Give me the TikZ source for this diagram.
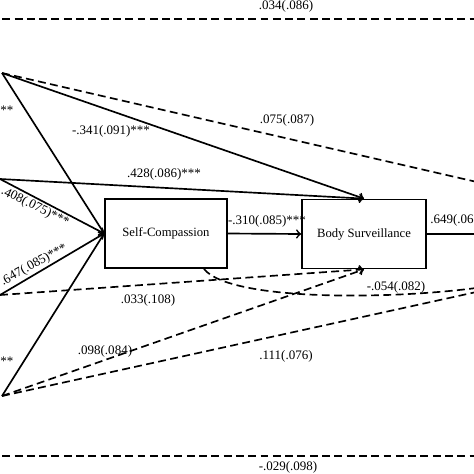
\documentclass[tikz,border=0pt]{standalone}
\usepackage{fontspec}
\setmainfont{Liberation Serif}
\usetikzlibrary{arrows}

\begin{document}
\begin{tikzpicture}[x=0.02cm,y=-0.02cm,>=to,
    var/.style={draw,line width=1pt,minimum width=2.44cm,minimum height=1.38cm,
      font=\fontsize{7.2}{8}\selectfont},
    sig/.style={line width=0.95pt},
    nonsig/.style={line width=0.95pt,dash pattern=on 4.5pt off 2.5pt},
    coef/.style={font=\fontsize{7.4}{8}\selectfont,inner sep=0pt}]
  \useasboundingbox (0,0) rectangle (474,474);
  \clip (0,0) rectangle (474,474);

  % mediator boxes
  \node[var] (sc) at (166,233.5) {Self-Compassion};
  \node[var,minimum width=2.48cm] (bs) at (364,234) {Body Surveillance};

  % predictors (cut off on the left)
  \coordinate (pa) at (2,73);
  \coordinate (pb) at (0,179);
  \coordinate (pc) at (0,295);
  \coordinate (pd) at (2,396);
  \coordinate (ptop) at (-10,19);
  \coordinate (pbot) at (-10,456);

  % outcome (cut off on the right)
  \coordinate (oa) at (490,185);
  \coordinate (obs) at (490,234);
  \coordinate (osc) at (490,286);
  \coordinate (od) at (490,289);
  \coordinate (otop) at (490,19);
  \coordinate (obot) at (490,456);

  \draw[nonsig] (ptop) -- (otop);
  \draw[nonsig] (pbot) -- (obot);

  \draw[sig,->] (pa) -- (sc.west);
  \draw[sig,->] (pa) -- (bs.north);
  \draw[nonsig] (pa) -- (oa);

  \draw[sig,->] (pb) -- (bs.north);
  \draw[sig,->] (pb) -- (sc.west);

  \draw[sig,->] (pc) -- (sc.west);
  \draw[nonsig,->] (pc) -- (bs.south);

  \draw[sig,->] (pd) -- (sc.west);
  \draw[nonsig,->] (pd) -- (bs.south);
  \draw[nonsig] (pd) -- (od);

  \draw[sig,->] (sc.east) -- (bs.west);
  \draw[sig] (bs.east) -- (obs);
  \draw[nonsig] (sc.-43) .. controls (230,302) and (400,300) .. (osc);

  % coefficients
  \node[coef] (c1) at (286,6) {.034(.086)};
  \node[coef] (c2) at (111,131) {-.341(.091)***};
  \node[coef] (c3) at (287,120) {.075(.087)};
  \node[coef] (c4) at (164,174) {.428(.086)***};
  \node[coef,rotate=-26] (c5) at (35,207) {.408(.075)***};
  \node[coef,rotate=29] (c6) at (34,265) {.647(.085)***};
  \node[coef] (c7) at (7,110) {**};
  \node[coef] (c8) at (7,361) {**};
  \node[coef] (c9) at (148,300) {.033(.108)};
  \node[coef] (c10) at (267,221) {-.310(.085)***};
  \node[coef,anchor=west] (c11) at (430,220) {.649(.06};
  \node[coef] (c12) at (396,287) {-.054(.082)};
  \node[coef] (c13) at (105,351) {.098(.084)};
  \node[coef] (c14) at (286,356) {.111(.076)};
  \node[coef] (c15) at (288,467) {-.029(.098)};
\end{tikzpicture}
\end{document}
